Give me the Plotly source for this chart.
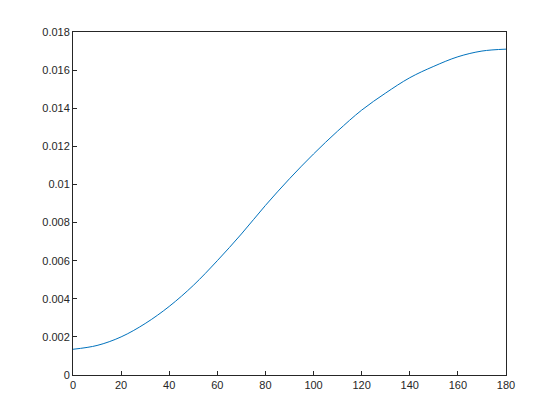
import plotly.graph_objects as go

x_vals = [0, 10, 20, 30, 40, 50, 60, 70, 80, 90, 100, 110, 120, 130, 140, 150, 160, 170, 180]
y_vals = [0.00135, 0.00155, 0.0020, 0.0027, 0.0036, 0.0047, 0.0060, 0.0074, 0.0089, 0.0103,
          0.0116, 0.0128, 0.0139, 0.0148, 0.0156, 0.0162, 0.0167, 0.0170, 0.0171]
x_ticks = list(range(0, 181, 20))
y_ticks = [i * 0.002 for i in range(10)]
y_labels = ["0", "0.002", "0.004", "0.006", "0.008", "0.01", "0.012", "0.014", "0.016", "0.018"]

fig = go.Figure(go.Scatter(x=x_vals, y=y_vals, mode="lines", line=dict(color="#0072BD", width=1, shape="spline", smoothing=1.0)))
ax = dict(showgrid=False, zeroline=False, showline=True, mirror=True, linecolor="#262626", linewidth=1,
          ticks="inside", ticklen=4, tickcolor="#262626")
fig.update_xaxes(range=[0, 180], tickvals=x_ticks, **ax)
fig.update_yaxes(range=[0, 0.018], tickvals=y_ticks, ticktext=y_labels, **ax)
fig.update_layout(width=560, height=420, margin=dict(l=65, r=62, t=24, b=53),
                  paper_bgcolor="white", plot_bgcolor="white", showlegend=False,
                  font=dict(family="Liberation Sans, Arial", size=11, color="#262626"))
fig.write_html("out.html")
